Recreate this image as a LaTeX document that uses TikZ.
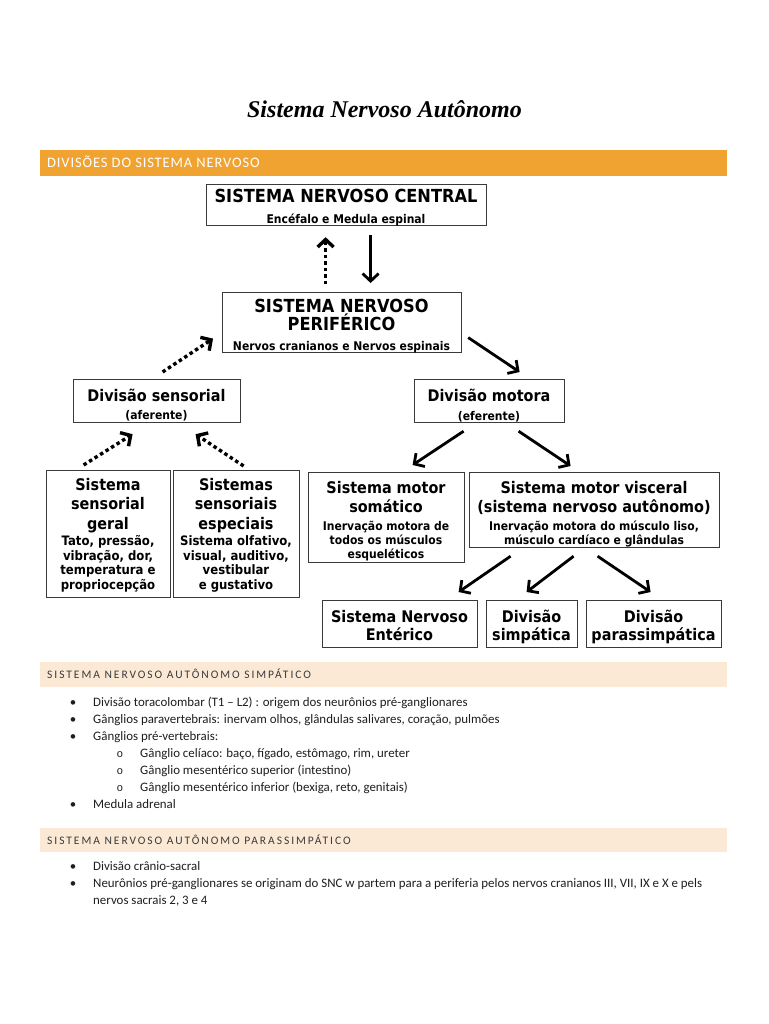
\documentclass[tikz,border=0pt]{standalone}
\usepackage{fontspec}
\setmainfont{Carlito}
\newfontfamily\cf[FakeStretch=0.9]{DejaVu Sans}
\newfontfamily\hdrA[LetterSpace=6]{Carlito}
\newfontfamily\hdrB[LetterSpace=17]{Carlito}
\newfontfamily\monof{Liberation Mono}
\newfontfamily\titlef{Liberation Serif}
\usetikzlibrary{arrows.meta,calc}
\definecolor{orangebar}{HTML}{F0A330}
\definecolor{peach}{HTML}{FBE9D5}
\definecolor{boxgray}{HTML}{3A3A3A}
\definecolor{bodytext}{HTML}{1E1E1E}
\definecolor{hdrtext}{HTML}{3A3A3A}
\newcommand\fs[1]{\fontsize{#1}{#1}\selectfont}
\begin{document}
\begin{tikzpicture}[x=1pt,y=-1pt,
  box/.style={draw=boxgray, line width=1.2pt, anchor=north west, inner sep=0pt, fill=white},
  big/.style={font=\cf\bfseries\fs{18}, anchor=base, inner sep=0pt},
  lab/.style={font=\cf\bfseries\fs{16}, anchor=base, inner sep=0pt},
  sm/.style={font=\cf\bfseries\fs{12}, anchor=base, inner sep=0pt},
  sms/.style={font=\cf\bfseries\fs{13}, anchor=base, inner sep=0pt},
  body/.style={font=\fs{12.9}, anchor=base west, inner sep=0pt, text=bodytext},
  bul/.style={font=\fs{12.9}, anchor=base, inner sep=0pt, text=bodytext},
  subbul/.style={font=\monof\fs{11}, anchor=base, inner sep=0pt, text=bodytext},
  hdrtxt/.style={anchor=base west, inner sep=0pt},
  arr/.style={line width=2.8pt, -{Straight Barb[length=7.5pt,width=16pt]}},
  darr/.style={line width=3.4pt, dash pattern=on 3.5pt off 3pt, -{Straight Barb[length=7.5pt,width=16pt]}}
]
\useasboundingbox (0,0) rectangle (768,1024);
\fill[white] (0,0) rectangle (768,1024);

% title
\node[anchor=base, inner sep=0pt, font=\titlef\bfseries\itshape\fs{24}] (title) at (384.5,118) {Sistema Nervoso Autônomo};

% section bars
\fill[orangebar] (40,150) rectangle (727,176);
\node[hdrtxt, font=\hdrA\fs{14.5}, text=white] (h1) at (47,167.5) {DIVISÕES DO SISTEMA NERVOSO};
\fill[peach] (40,662) rectangle (727,687);
\node[hdrtxt, font=\hdrB\fs{11.5}, text=hdrtext] (h2) at (47,678.5) {SISTEMA NERVOSO AUTÔNOMO SIMPÁTICO};
\fill[peach] (40,828) rectangle (727,852);
\node[hdrtxt, font=\hdrB\fs{11.5}, text=hdrtext] (h3) at (47,844.5) {SISTEMA NERVOSO AUTÔNOMO PARASSIMPÁTICO};

% boxes
\node[box, minimum width=280pt, minimum height=41pt] (snc) at (206,184) {};
\node[box, minimum width=239pt, minimum height=60pt] (snp) at (222,292) {};
\node[box, minimum width=167pt, minimum height=43pt] (ds) at (73,379) {};
\node[box, minimum width=150pt, minimum height=43pt] (dm) at (414,379) {};
\node[box, minimum width=124pt, minimum height=127pt] (geral) at (46,470) {};
\node[box, minimum width=126pt, minimum height=127pt] (esp) at (173,470) {};
\node[box, minimum width=156pt, minimum height=90pt] (som) at (308,472) {};
\node[box, minimum width=250pt, minimum height=75pt] (vis) at (469,472) {};
\node[box, minimum width=155pt, minimum height=47pt] (ent) at (322,600) {};
\node[box, minimum width=91pt, minimum height=47pt] (simp) at (486,600) {};
\node[box, minimum width=135pt, minimum height=47pt] (para) at (586,600) {};

% box texts
\node[big] (t1) at (346,203) {SISTEMA NERVOSO CENTRAL};
\node[sm] (t2) at (346,223) {Encéfalo e Medula espinal};
\node[big] (t3) at (341.5,312) {SISTEMA NERVOSO};
\node[big] (t4) at (341.5,330) {PERIFÉRICO};
\node[sm] (t5) at (341.5,350) {Nervos cranianos e Nervos espinais};
\node[lab] (t6) at (156.5,401) {Divisão sensorial};
\node[sm] (t7) at (156.5,419) {(aferente)};
\node[lab] (t8) at (489,401) {Divisão motora};
\node[sm] (t9) at (489,420) {(eferente)};

\node[lab] (g1) at (108,490) {Sistema};
\node[lab] (g2) at (108,509) {sensorial};
\node[lab] (g3) at (108,529) {geral};
\node[sms] (g4) at (108,545) {Tato, pressão,};
\node[sms] (g5) at (108,560) {vibração, dor,};
\node[sms] (g6) at (108,574.5) {temperatura e};
\node[sms] (g7) at (108,589) {propriocepção};

\node[lab] (e1) at (236,490) {Sistemas};
\node[lab] (e2) at (236,509) {sensoriais};
\node[lab] (e3) at (236,529) {especiais};
\node[sms] (e4) at (236,545) {Sistema olfativo,};
\node[sms] (e5) at (236,560) {visual, auditivo,};
\node[sms] (e6) at (236,574.5) {vestibular};
\node[sms] (e7) at (236,589) {e gustativo};

\node[lab] (s1) at (386,493) {Sistema motor};
\node[lab] (s2) at (386,512) {somático};
\node[sm] (s3) at (386,530) {Inervação motora de};
\node[sm] (s4) at (386,544) {todos os músculos};
\node[sm] (s5) at (386,558) {esqueléticos};

\node[lab] (v1) at (594,493) {Sistema motor visceral};
\node[lab] (v2) at (594,512) {(sistema nervoso autônomo)};
\node[sm] (v3) at (594,530) {Inervação motora do músculo liso,};
\node[sm] (v4) at (594,544) {músculo cardíaco e glândulas};

\node[lab] (n1) at (399.5,622) {Sistema Nervoso};
\node[lab] (n2) at (399.5,640) {Entérico};
\node[lab] (p1) at (531.5,622) {Divisão};
\node[lab] (p2) at (531.5,640) {simpática};
\node[lab] (q1) at (653.5,622) {Divisão};
\node[lab] (q2) at (653.5,640) {parassimpática};

% connectors
\draw[darr] ($(snp.north)+(-16.5,-8)$) -- ($(snc.south)+(-21,11)$);
\draw[arr] ($(snc.south)+(24,9)$) -- ($(snp.north)+(28.5,-9)$);
\draw[darr] ($(ds.north)+(5.5,-7)$) -- ($(snp.west)+(-9,16)$);
\draw[arr] ($(snp.east)+(6,15)$) -- ($(dm.north)+(30,-7)$);
\draw[darr] ($(geral.north)+(-25,-5)$) -- ($(ds.south)+(-24.5,11)$);
\draw[darr] ($(esp.north)+(7,-4)$) -- ($(ds.south)+(38.5,11)$);
\draw[arr] ($(dm.south)+(-26,8)$) -- ($(som.north)+(26,-7)$);
\draw[arr] ($(dm.south)+(29,8)$) -- ($(vis.north)+(-24,-6)$);
\draw[arr] ($(vis.south)+(-84,8)$) -- ($(ent.north)+(58.5,-8)$);
\draw[arr] ($(vis.south)+(-21,8)$) -- ($(simp.north)+(-5.5,-8)$);
\draw[arr] ($(vis.south)+(3,8)$) -- ($(para.north)+(-3.5,-8)$);

% bullets section 2
\node[bul] (b1) at (73,706) {•};
\node[body] (l1) at (93,706) {Divisão toracolombar (T1 – L2) : origem dos neurônios pré-ganglionares};
\node[bul] (b2) at (73,723) {•};
\node[body] (l2) at (93,723) {Gânglios paravertebrais: inervam olhos, glândulas salivares, coração, pulmões};
\node[bul] (b3) at (73,740) {•};
\node[body] (l3) at (93,740) {Gânglios pré-vertebrais:};
\node[subbul] (c1) at (120,757) {o};
\node[body] (l4) at (140,757) {Gânglio celíaco: baço, fígado, estômago, rim, ureter};
\node[subbul] (c2) at (120,774) {o};
\node[body] (l5) at (140,774) {Gânglio mesentérico superior (intestino)};
\node[subbul] (c3) at (120,791) {o};
\node[body] (l6) at (140,791) {Gânglio mesentérico inferior (bexiga, reto, genitais)};
\node[bul] (b4) at (73,808) {•};
\node[body] (l7) at (93,808) {Medula adrenal};

% bullets section 3
\node[bul] (b5) at (73,870) {•};
\node[body] (m1) at (93,870) {Divisão crânio-sacral};
\node[bul] (b6) at (73,887) {•};
\node[body] (m2) at (93,887) {Neurônios pré-ganglionares se originam do SNC w partem para a periferia pelos nervos cranianos III, VII, IX e X e pels};
\node[body] (m3) at (93,904) {nervos sacrais 2, 3 e 4};
\end{tikzpicture}
\end{document}
